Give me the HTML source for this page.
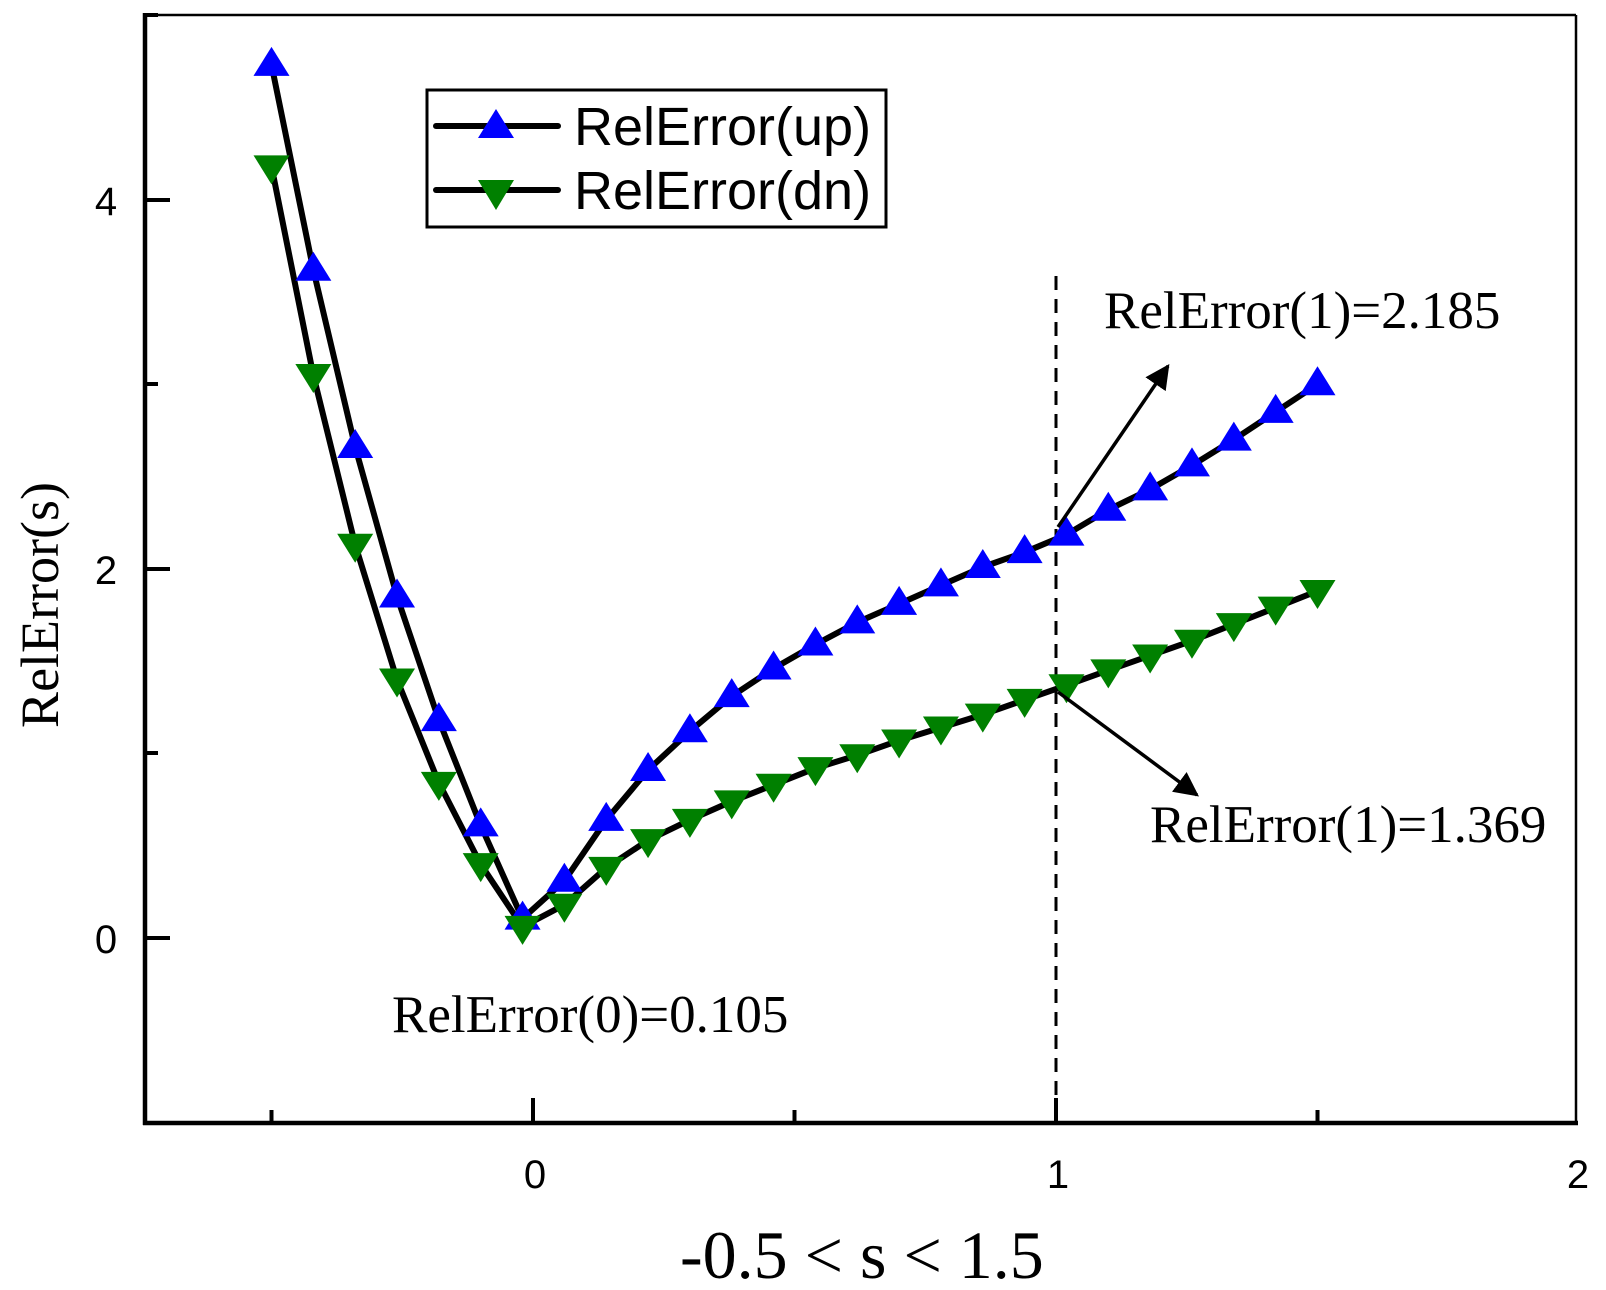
<!DOCTYPE html>
<html><head><meta charset="utf-8"><style>html,body{margin:0;padding:0;background:#fff}svg{display:block}</style></head>
<body>
<svg id="c" width="1606" height="1290" xmlns="http://www.w3.org/2000/svg">
<defs>
<marker id="ah" viewBox="0 0 10 10" refX="9" refY="5" markerWidth="7" markerHeight="7" orient="auto"><path d="M0,0 L10,5 L0,10 z" fill="#000"/></marker>
</defs>
<line x1="145" y1="15" x2="1576" y2="15" stroke="#000" stroke-width="2.5"/>
<line x1="1576" y1="15" x2="1576" y2="1123" stroke="#000" stroke-width="2.5"/>
<line x1="145" y1="13" x2="145" y2="1125" stroke="#000" stroke-width="4.5"/>
<line x1="143" y1="1123" x2="1578" y2="1123" stroke="#000" stroke-width="4.5"/>
<g stroke="#000" stroke-width="4">
<line x1="145" y1="200" x2="170" y2="200"/><line x1="145" y1="569" x2="170" y2="569"/><line x1="145" y1="938" x2="170" y2="938"/>
<line x1="145" y1="15" x2="158" y2="15"/><line x1="145" y1="384" x2="158" y2="384"/><line x1="145" y1="753" x2="158" y2="753"/>
<line x1="533" y1="1123" x2="533" y2="1098"/><line x1="1056" y1="1123" x2="1056" y2="1098"/>
<line x1="271.5" y1="1123" x2="271.5" y2="1110"/><line x1="794.5" y1="1123" x2="794.5" y2="1110"/><line x1="1317.5" y1="1123" x2="1317.5" y2="1110"/>
</g>
<g font-family="Liberation Sans, sans-serif" font-size="40" fill="#000" text-anchor="middle">
<text x="106" y="215">4</text><text x="106" y="584">2</text><text x="106" y="953">0</text>
<text x="535" y="1188">0</text><text x="1058" y="1188">1</text><text x="1578" y="1188">2</text>
</g>
<line x1="1056" y1="276" x2="1056" y2="1123" stroke="#000" stroke-width="3" stroke-dasharray="14,9"/>
<g id="series"></g>
<line x1="1058" y1="527" x2="1168" y2="366" stroke="#000" stroke-width="3.5" marker-end="url(#ah)"/>
<line x1="1058" y1="692" x2="1197" y2="795" stroke="#000" stroke-width="3.5" marker-end="url(#ah)"/>
<g font-family="Liberation Serif, serif" font-size="53" fill="#000">
<text x="1104" y="328">RelError(1)=2.185</text>
<text x="1150" y="842">RelError(1)=1.369</text>
<text x="392" y="1032">RelError(0)=0.105</text>
<text x="680" y="1278" font-size="68">-0.5 &lt; s &lt; 1.5</text>
<text transform="translate(58,605) rotate(-90)" text-anchor="middle" font-size="54">RelError(s)</text>
</g>
<rect x="427" y="90" width="459" height="137" fill="#fff" stroke="#000" stroke-width="3"/>
<line x1="436" y1="126" x2="558" y2="126" stroke="#000" stroke-width="6" stroke-linecap="round"/>
<line x1="436" y1="190" x2="558" y2="190" stroke="#000" stroke-width="6" stroke-linecap="round"/>
<polygon points="478,138 514,138 496,109" fill="#0000ff"/>
<polygon points="478,180 514,180 496,210" fill="#008000"/>
<g font-family="Liberation Sans, sans-serif" font-size="54" fill="#000">
<text x="574" y="145">RelError(up)</text>
<text x="574" y="209">RelError(dn)</text>
</g>
</svg>
<script>
var up=[4.73,3.62,2.66,1.85,1.18,0.61,0.105,0.31,0.64,0.91,1.12,1.31,1.46,1.59,1.71,1.81,1.91,2.01,2.09,2.185,2.32,2.43,2.56,2.70,2.85,3.0];
var dn=[4.18,3.05,2.13,1.40,0.84,0.40,0.06,0.18,0.38,0.53,0.64,0.74,0.83,0.92,0.99,1.07,1.14,1.21,1.29,1.369,1.45,1.53,1.61,1.70,1.79,1.88];
function X(i){return 533+523*(-0.5+0.08*i);}function Y(v){return 938-184.6*v;}
var g=document.getElementById('series'),h='';
[up,dn].forEach(function(a){var p=a.map(function(v,i){return X(i).toFixed(1)+','+Y(v).toFixed(1)}).join(' ');
h+='<polyline points="'+p+'" fill="none" stroke="#000" stroke-width="6" stroke-linejoin="round"/>';});
up.forEach(function(v,i){var x=X(i),y=Y(v);h+='<polygon points="'+(x-18)+','+(y+11)+' '+(x+18)+','+(y+11)+' '+x+','+(y-18)+'" fill="#0000ff"/>';});
dn.forEach(function(v,i){var x=X(i),y=Y(v);h+='<polygon points="'+(x-18)+','+(y-11)+' '+(x+18)+','+(y-11)+' '+x+','+(y+18)+'" fill="#008000"/>';});
g.innerHTML=h;
</script>
</body></html>
